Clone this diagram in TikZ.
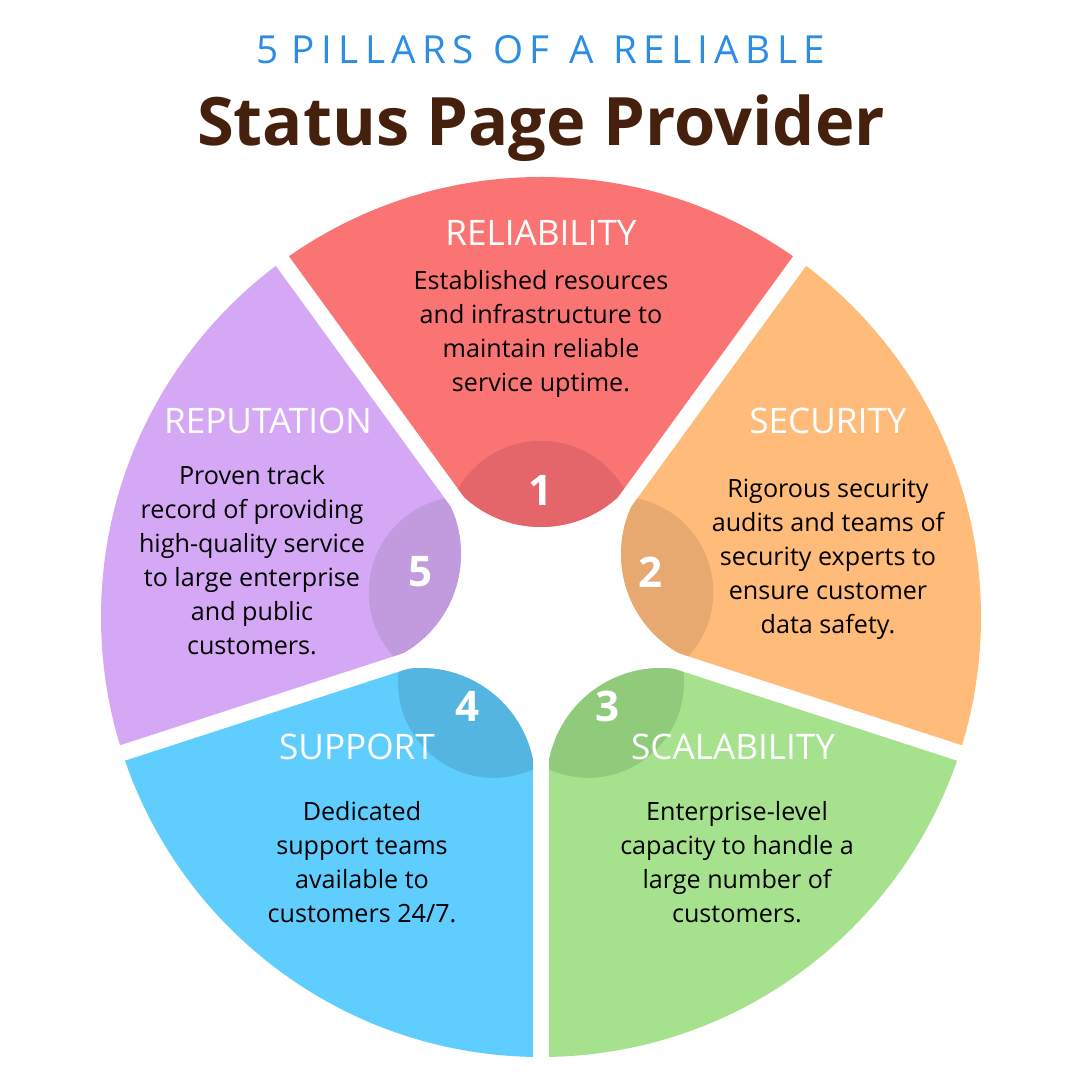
\documentclass[tikz,border=0pt]{standalone}
\usepackage{fontspec}
\usetikzlibrary{calc}
\setmainfont{Open Sans}
\definecolor{tblue}{HTML}{2B8DE3}
\definecolor{tbrown}{HTML}{45200C}
\definecolor{c1}{HTML}{FB7474}\definecolor{d1}{HTML}{E4666A}
\definecolor{c2}{HTML}{FFBB7A}\definecolor{d2}{HTML}{E8A970}
\definecolor{c3}{HTML}{A6E28D}\definecolor{d3}{HTML}{8FCB7A}
\definecolor{c4}{HTML}{5FCDFD}\definecolor{d4}{HTML}{54B6E0}
\definecolor{c5}{HTML}{D5A8F5}\definecolor{d5}{HTML}{C29ADE}
\tikzset{
 head/.style={white,font=\fontsize{10}{12}\selectfont},
 body/.style={black,align=center,font=\fontsize{7.15}{9.7}\selectfont},
 num/.style={white,font=\bfseries\fontsize{12}{14}\selectfont},
}
\newcommand{\seg}[3]{%
 \begin{scope}[shift={(5.41,4.63)}]
 \begin{scope}
  \clip (0,0) -- (#1-36:5) arc[start angle=#1-36,end angle=#1+36,radius=5] -- cycle;
  \fill[#2,even odd rule] (0,0) circle(4.40) (0,0) circle(1.65);
  \fill[#2] (#1:2.04) circle(1.14);
  \clip (#1:0.8) circle(0.96);
  \fill[#3,even odd rule] (0,0) circle(4.40) (0,0) circle(1.65);
  \fill[#3] (#1:2.04) circle(1.14);
 \end{scope}
 \end{scope}}
\begin{document}
\begin{tikzpicture}
\useasboundingbox[fill=white] (0,0) rectangle (10.8,10.8);
\seg{90}{c1}{d1}
\seg{18}{c2}{d2}
\seg{-54}{c3}{d3}
\seg{-126}{c4}{d4}
\seg{162}{c5}{d5}
\coordinate (o) at (5.41,4.63);
\foreach \a/\n in {270/g1,342/g2,54/g3,126/g4,198/g5}{
 \coordinate (\n) at ($(o)+(\a:5)$);
 \draw[white,line width=0.16cm] (o) -- (\n);}
\node[tblue,font=\fontsize{11}{13}\selectfont] (t1) at (5.41,10.3) {5\,\,P\,I\,L\,L\,A\,R\,S\,\,\,O\,F\,\,\,A\,\,\,R\,E\,L\,I\,A\,B\,L\,E};
\node[tbrown,font=\bfseries\fontsize{19}{22}\selectfont] (t2) at (5.41,9.52) {Status Page Provider};
\node[head] (h1) at (5.41,8.47) {RELIABILITY};
\node[body] (b1) at (5.41,7.46) {Established resources\\and infrastructure to\\maintain reliable\\service uptime.};
\node[head] (h2) at (8.28,6.59) {SECURITY};
\node[body] (b2) at (8.28,5.21) {Rigorous security\\audits and teams of\\security experts to\\ensure customer\\data safety.};
\node[head] (h3) at (7.33,3.33) {SCALABILITY};
\node[body] (b3) at (7.37,2.18) {Enterprise-level\\capacity to handle a\\large number of\\customers.};
\node[head] (h4) at (3.57,3.33) {SUPPORT};
\node[body] (b4) at (3.62,2.18) {Dedicated\\support teams\\available to\\customers 24/7.};
\node[head] (h5) at (2.68,6.59) {REPUTATION};
\node[body] (b5) at (2.52,5.20) {Proven track\\record of providing\\high-quality service\\to large enterprise\\and public\\customers.};
\node[num] (n1) at (5.41,5.90) {1};
\node[num] (n2) at (6.51,5.08) {2};
\node[num] (n3) at (6.08,3.74) {3};
\node[num] (n4) at (4.68,3.74) {4};
\node[num] (n5) at (4.21,5.08) {5};
\end{tikzpicture}
\end{document}
